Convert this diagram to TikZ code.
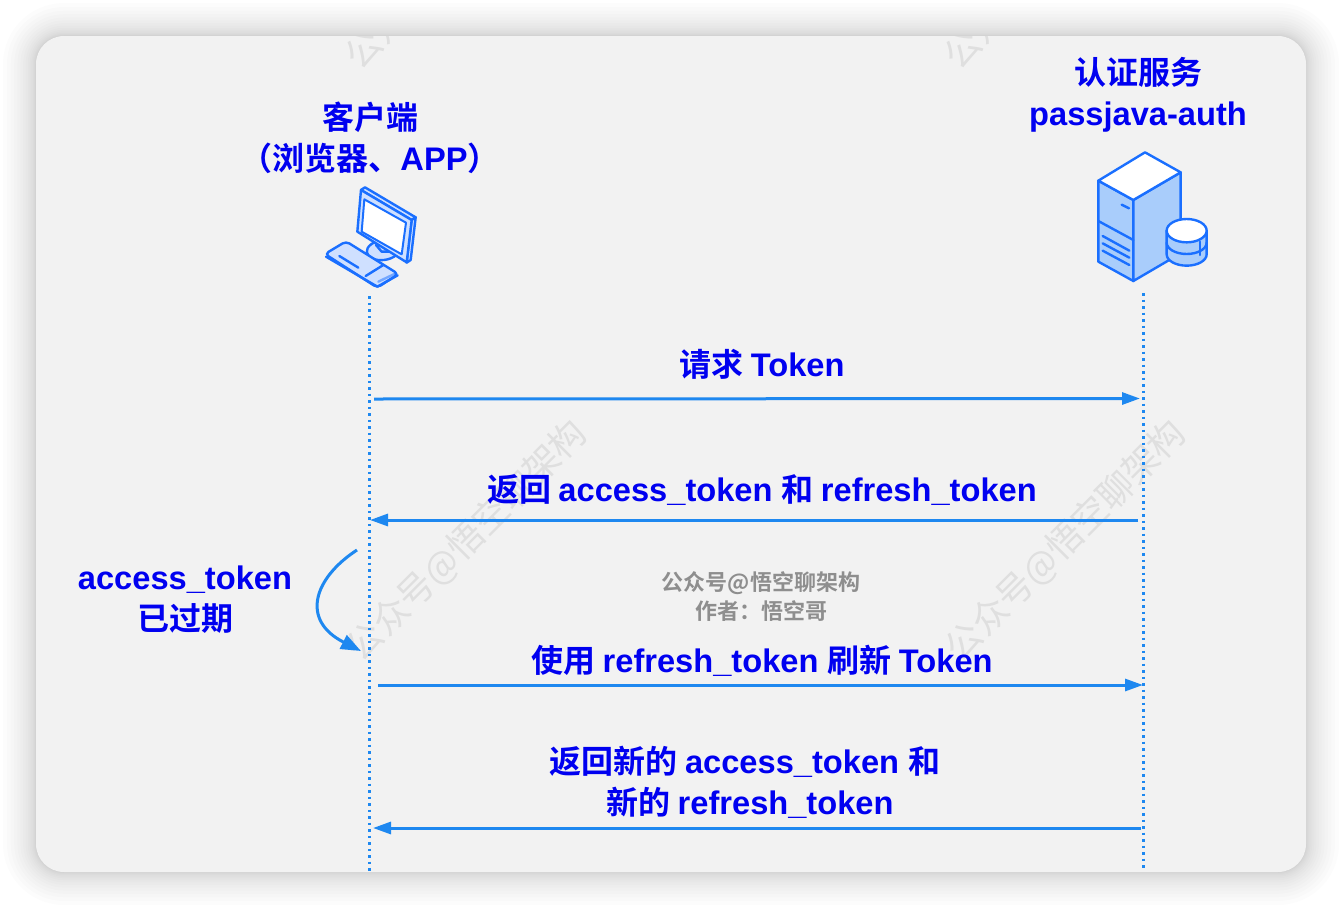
\documentclass[tikz,border=0pt]{standalone}
\usepackage{fontspec}
\setmainfont{Liberation Sans}
\newfontfamily\cj{Noto Sans CJK SC Bold}
\newfontfamily\cjp{Noto Sans CJK SC}
\newfontfamily\la[Scale=1.02]{Liberation Sans Bold}
\usetikzlibrary{arrows.meta}
\definecolor{panelc}{HTML}{F2F2F2}
\definecolor{labelc}{HTML}{0000F0}
\definecolor{arrowc}{HTML}{1E88F0}
\definecolor{iconc}{HTML}{1A6FFF}
\definecolor{iconf}{HTML}{A9CDFB}
\definecolor{iconl}{HTML}{CFE0FF}
\definecolor{markc}{HTML}{DFDFDF}
\definecolor{grayt}{HTML}{8E8E8E}
\tikzset{
  lbl/.style={text=labelc,font=\fontsize{32}{41}\selectfont,align=center,inner sep=0pt,anchor=center},
  msg/.style={draw=arrowc,line width=3pt,-{Triangle[length=18pt,width=12pt]}},
  curvemsg/.style={draw=arrowc,line width=3pt,-{Triangle[length=20pt,width=15pt]}},
  life/.style={draw=arrowc,line width=2.8pt,dash pattern=on 2.8pt off 3.7pt},
  wm/.style={text=markc,font=\fontsize{36}{36}\selectfont\cjp,rotate=45,inner sep=0pt},
  gr/.style={text=grayt,font=\fontsize{22}{28}\selectfont\cj,inner sep=0pt},
  ic/.style={draw=iconc,line width=2.4pt,line join=round,line cap=round},
}
\begin{document}
\begin{tikzpicture}[x=1pt,y=-1pt]
\useasboundingbox (0,0) rectangle (1342,908);
\fill[white] (0,0) rectangle (1342,908);
\foreach \i in {1,...,16}{
  \pgfmathsetmacro{\d}{33*(\i/16)^2}
  \fill[black,fill opacity=0.010,rounded corners={(28+\d)*1pt}] (36-\d,36-\d) rectangle (1306+\d,872+\d);
}
\fill[panelc,rounded corners=28pt] (36,36) rectangle (1306,872);
\begin{scope}
\clip[rounded corners=28pt] (36,36) rectangle (1306,872);
\node[wm] (wa) at (467,541) {公众号@悟空聊架构};
\node[wm] (wb) at (1066,541) {公众号@悟空聊架构};
\node[wm] (wc) at (376,36) {公众};
\node[wm] (wd) at (975,36) {公众};
\end{scope}
% lifelines
\coordinate (ct) at (369.5,296); \coordinate (cb) at (369.5,871);
\coordinate (st) at (1143.5,293); \coordinate (sb) at (1143.5,871);
\draw[life] (ct) -- (cb);
\draw[life] (st) -- (sb);
% client icon
\begin{scope}[shift={(300,170)},scale=1/3]
\filldraw[ic,fill=iconl,rotate around={8:(250,240)}] (250,240) ellipse [x radius=50,y radius=30];
\filldraw[ic,fill=iconl] (228,225) -- (262,225) -- (280,245) -- (245,245) -- cycle;
\filldraw[ic,fill=iconl] (183,60) -- (195,52) -- (347,142) -- (335,150) -- cycle;
\filldraw[ic,fill=iconl] (335,150) -- (347,142) -- (332,270) -- (320,278) -- cycle;
\filldraw[ic,fill=iconl] (183,60) -- (335,150) -- (320,277) -- (172,185) -- cycle;
\filldraw[ic,fill=white,line width=2pt] (193,88) -- (318,158) -- (305,253) -- (185,185) -- cycle;
\filldraw[ic,fill=iconl,rounded corners=4pt] (75,252) -- (138,214) -- (295,312) -- (232,353) -- cycle;
\draw[ic] (78,260) -- (232,350) -- (293,316);
\draw[ic] (197,318) -- (250,285);
\draw[ic] (118,258) -- (175,293);
\draw[ic,draw opacity=.5] (235,335) -- (283,312);
\end{scope}
% server icon
\begin{scope}[shift={(1080,140)},scale=1/3]
\filldraw[ic,fill=iconf] (55,122) -- (160,180) -- (160,423) -- (55,365) -- cycle;
\filldraw[ic,fill=iconf] (160,180) -- (302,97) -- (302,340) -- (160,423) -- cycle;
\filldraw[ic,fill=white] (55,122) -- (195,37) -- (302,97) -- (160,180) -- cycle;
\draw[ic] (55,243) -- (160,300);
\draw[ic] (68,288) -- (148,332);
\draw[ic] (68,310) -- (148,353);
\draw[ic] (68,332) -- (148,375);
\draw[ic] (125,194) -- (147,205);
\filldraw[ic,fill=iconf] (260,272) -- (260,343) arc [start angle=180,end angle=0,x radius=60,y radius=34] -- (380,272) -- cycle;
\draw[ic] (260,308) arc [start angle=180,end angle=0,x radius=60,y radius=34];
\filldraw[ic,fill=white] (320,272) ellipse [x radius=60,y radius=35];
\draw[ic] (360,305) -- (360,345);
\end{scope}
% header labels
\node[lbl] (cl) at (370,138) {\cj 客户端\\\cj （浏览器、\la APP\cj ）};
\node[lbl] (sv) at (1138,95) {\cj 认证服务\\\la passjava-auth};
% messages
\coordinate (a1) at (374,399); \coordinate (b1) at (1140,398.5);
\coordinate (a2) at (1138,520); \coordinate (b2) at (370,520);
\coordinate (a3) at (378,685); \coordinate (b3) at (1143,685);
\coordinate (a4) at (1141,828); \coordinate (b4) at (373,828);
\coordinate (a5) at (357,550); \coordinate (b5) at (361,651);
\draw[msg] (a1) -- (b1);
\draw[msg] (a2) -- (b2);
\draw[msg] (a3) -- (b3);
\draw[msg] (a4) -- (b4);
\draw[curvemsg] (a5) .. controls (314,578) and (300,620) .. (b5);
\node[lbl] (m1) at (762,364) {\cj 请求 \la Token};
\node[lbl] (m2) at (762,490) {\cj 返回 \la access\_token \cj 和 \la refresh\_token};
\node[lbl] (m3) at (762,661) {\cj 使用 \la refresh\_token \cj 刷新 \la Token};
\node[lbl] (m4) at (745,782.5) {\cj 返回新的 \la access\_token \cj 和\\\hspace*{10pt}\cj 新的 \la refresh\_token};
\node[lbl] (exp) at (185,600) {\la access\_token\\\cj 已过期};
\node[gr] (g1) at (761,583.5) {公众号@悟空聊架构};
\node[gr] (g2) at (761,611) {作者：悟空哥};
\end{tikzpicture}
\end{document}
